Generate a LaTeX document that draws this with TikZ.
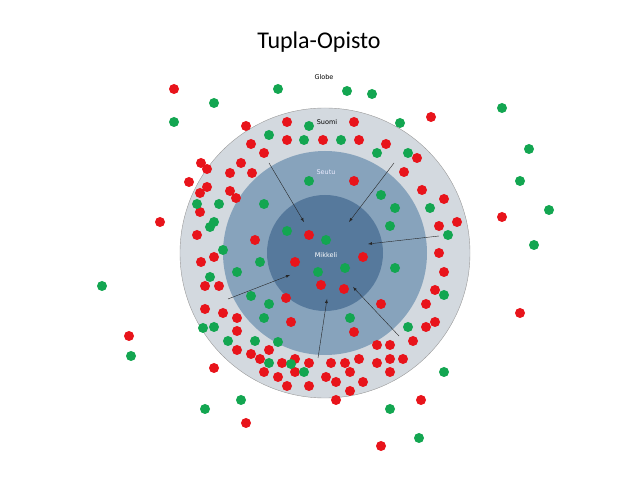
\documentclass[tikz,border=0pt]{standalone}
\usepackage{fontspec}
\setmainfont{Carlito}
\newfontfamily\lab{DejaVu Sans}
\definecolor{rd}{HTML}{E8141B}
\definecolor{gn}{HTML}{13A651}
\definecolor{ring1}{HTML}{D3D9DF}
\definecolor{ring2}{HTML}{87A3BC}
\definecolor{ring3}{HTML}{56799C}
\begin{document}
\begin{tikzpicture}[x=1pt,y=-1pt,
  rdot/.style={circle,fill=rd,inner sep=0pt,minimum size=10pt},
  gdot/.style={circle,fill=gn,inner sep=0pt,minimum size=10pt},
  arr/.style={-latex,thin,black!85}]
\useasboundingbox (0,0) rectangle (638,478);
\node[font=\fontsize{24}{28}\selectfont] (title) at (319,42) {Tupla-Opisto};
\node[circle,draw=gray!80,fill=ring1,minimum size=290pt,inner sep=0pt] (suomi) at (325,253) {};
\node[circle,fill=ring2,minimum size=204pt,inner sep=0pt] (seutu) at (325,253) {};
\node[circle,fill=ring3,minimum size=116pt,inner sep=0pt] (mikkeli) at (325,253) {};
\node[font=\lab\fontsize{6.5}{8}\selectfont] (lglobe) at (324,77) {Globe};
\node[font=\lab\fontsize{6.5}{8}\selectfont] (lsuomi) at (327,122) {Suomi};
\node[font=\lab\fontsize{6.5}{8}\selectfont,text=white!92!blue] (lseutu) at (326,172) {Seutu};
\node[font=\lab\fontsize{6.5}{8}\selectfont,text=white] (lmik) at (326,255) {Mikkeli};
\foreach \x/\y [count=\i] in {174/89,246/126,287/122,287/140,323/140,251/144,264/153,201/163,207/169,241/163,230/173,252/173,189/182,207/187,200/193,230/191,236/198,200/212,160/222,197/235,255/240,309/235,214/257,431/117,354/122,359/140,386/144,417/158,404/172,354/181,422/190,444/199,502/217,439/226,457/222,439/253,363/257,201/262,295/262,205/286,219/286,321/285,286/298,205/309,223/313,237/318,291/322,237/331,129/336,237/350,269/350,251/354,260/359,295/359,309/363,282/363,264/372,278/377,295/372,326/377,214/368,287/386,309/386,246/423,444/272,344/289,435/290,381/304,426/304,520/313,426/327,435/322,354/332,413/341,377/345,390/345,331/363,345/363,359/359,377/363,390/359,403/359,350/372,390/372,336/382,363/382,350/391,336/400,421/400,381/446}
  \node[rdot] (r\i) at (\x,\y) {};
\foreach \x/\y [count=\i] in {278/89,214/103,174/122,309/126,269/135,304/140,197/204,219/204,264/204,309/181,214/222,210/227,223/250,287/231,326/240,347/91,372/94,502/108,400/123,341/140,377/153,408/153,529/149,520/181,381/195,395/208,430/208,549/210,390/226,448/235,534/245,260/262,318/272,210/277,237/272,102/286,251/296,269/304,264/318,203/328,214/327,228/341,255/341,278/342,131/356,269/363,291/364,304/372,241/400,205/409,345/268,395/268,444/295,350/318,408/327,444/372,390/409,419/438}
  \node[gdot] (g\i) at (\x,\y) {};
\coordinate (a1) at (269,163); \coordinate (b1) at (304,222);
\coordinate (a2) at (394,163); \coordinate (b2) at (349,222);
\coordinate (a3) at (439,236); \coordinate (b3) at (368,244);
\coordinate (a4) at (228,299); \coordinate (b4) at (290,275);
\coordinate (a5) at (318,358); \coordinate (b5) at (327,299);
\coordinate (a6) at (399,336); \coordinate (b6) at (353,287);
\foreach \i in {1,...,6} \draw[arr] (a\i) -- (b\i);
\end{tikzpicture}
\end{document}
